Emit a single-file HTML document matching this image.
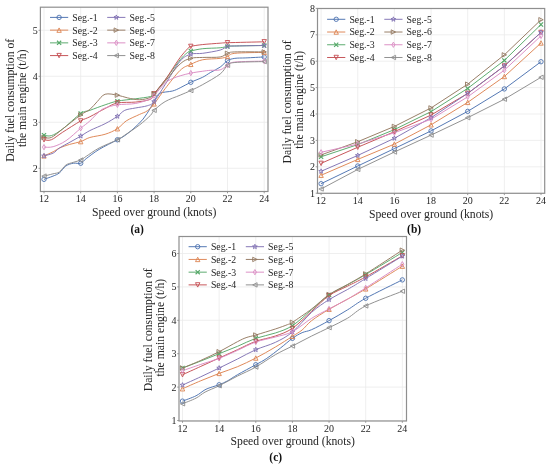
<!DOCTYPE html>
<html><head><meta charset="utf-8"><style>
html,body{margin:0;padding:0;background:#fff;}
svg{display:block;filter:grayscale(0);}
text{font-family:"Liberation Serif", serif;fill:#252525;}
.tk{font-size:10px;}
.ti{font-size:11.7px;}
.lg{font-size:9.8px;}
.pl{font-size:11.5px;font-weight:bold;fill:#111;}
</style></head><body>
<svg width="550" height="464" viewBox="0 0 550 464">
<rect width="550" height="464" fill="#fff"/>
<path d="M44.00,7.2V191.5M80.70,7.2V191.5M117.40,7.2V191.5M154.10,7.2V191.5M190.80,7.2V191.5M227.50,7.2V191.5M264.20,7.2V191.5M40.4,168.30H268.0M40.4,122.30H268.0M40.4,76.30H268.0M40.4,30.30H268.0" stroke="#ebebeb" stroke-width="0.8" fill="none"/>
<path d="M44.00,179.34C45.50,178.80 50.42,177.19 52.99,176.12C55.56,175.05 57.27,174.59 59.41,172.90C61.55,171.21 63.51,167.61 65.84,166.00C68.16,164.39 70.88,163.70 73.36,163.24C75.84,162.78 78.56,164.01 80.70,163.24C82.84,162.47 83.15,160.94 86.21,158.64C89.26,156.34 93.85,152.58 99.05,149.44C104.25,146.30 113.12,142.08 117.40,139.78C121.68,137.48 121.99,137.56 124.74,135.64C127.49,133.72 130.86,131.04 133.91,128.28C136.97,125.52 140.34,122.45 143.09,119.08C145.84,115.71 148.44,111.26 150.43,108.04C152.42,104.82 153.49,102.21 155.02,99.76C156.55,97.31 156.70,94.78 159.61,93.32C162.51,91.86 169.02,91.94 172.45,91.02C175.88,90.10 177.10,89.26 180.16,87.80C183.22,86.34 187.04,84.04 190.80,82.28C194.56,80.52 199.49,78.83 202.73,77.22C205.97,75.61 207.35,74.31 210.25,72.62C213.16,70.93 217.29,69.09 220.16,67.10C223.03,65.11 225.05,62.12 227.50,60.66C229.95,59.20 231.78,58.82 234.84,58.36C237.90,57.90 240.96,58.13 245.85,57.90C250.74,57.67 261.14,57.13 264.20,56.98" stroke="#4C72B0" stroke-width="0.95" fill="none" stroke-linejoin="round"/>
<path d="M44.00,155.88C45.53,155.19 50.61,153.04 53.17,151.74C55.74,150.44 56.66,149.29 59.41,148.06C62.17,146.83 66.14,145.45 69.69,144.38C73.24,143.31 77.34,142.77 80.70,141.62C84.06,140.47 85.81,138.71 89.88,137.48C93.94,136.25 100.52,135.72 105.11,134.26C109.69,132.80 113.88,130.96 117.40,128.74C120.92,126.52 122.54,123.30 126.21,120.92C129.88,118.54 135.90,116.17 139.42,114.48C142.94,112.79 144.86,112.56 147.31,110.80C149.76,109.04 151.13,107.58 154.10,103.90C157.07,100.22 160.77,94.32 165.11,88.72C169.45,83.12 175.88,74.38 180.16,70.32C184.44,66.26 187.04,66.10 190.80,64.34C194.56,62.58 197.83,60.74 202.73,59.74C207.62,58.74 216.03,58.90 220.16,58.36C224.29,57.82 225.05,57.36 227.50,56.52C229.95,55.68 228.72,53.99 234.84,53.30C240.96,52.61 259.31,52.53 264.20,52.38" stroke="#DD8452" stroke-width="0.95" fill="none" stroke-linejoin="round"/>
<path d="M44.00,135.18C45.22,135.26 48.28,136.64 51.34,135.64C54.40,134.64 57.46,132.88 62.35,129.20C67.24,125.52 76.11,116.70 80.70,113.56C85.29,110.42 85.81,111.80 89.88,110.34C93.94,108.88 100.52,106.35 105.11,104.82C109.69,103.29 112.38,102.14 117.40,101.14C122.42,100.14 129.69,99.61 135.20,98.84C140.70,98.07 147.28,97.38 150.43,96.54C153.58,95.70 151.65,96.54 154.10,93.78C156.55,91.02 160.77,85.65 165.11,79.98C169.45,74.31 176.40,64.34 180.16,59.74C183.92,55.14 185.91,53.84 187.68,52.38C189.45,50.92 188.29,51.61 190.80,51.00C193.31,50.39 197.83,49.24 202.73,48.70C207.62,48.16 216.03,48.16 220.16,47.78C224.29,47.40 224.75,46.71 227.50,46.40C230.25,46.09 230.56,46.09 236.68,45.94C242.79,45.79 259.61,45.56 264.20,45.48" stroke="#55A868" stroke-width="0.95" fill="none" stroke-linejoin="round"/>
<path d="M44.00,139.78C45.22,139.78 48.28,141.01 51.34,139.78C54.40,138.55 57.46,135.56 62.35,132.42C67.24,129.28 76.11,123.53 80.70,120.92C85.29,118.31 85.81,118.85 89.88,116.78C93.94,114.71 100.52,110.80 105.11,108.50C109.69,106.20 112.29,104.05 117.40,102.98C122.51,101.91 130.25,102.67 135.75,102.06C141.25,101.45 147.37,100.68 150.43,99.30C153.49,97.92 151.65,97.00 154.10,93.78C156.55,90.56 162.05,84.12 165.11,79.98C168.17,75.84 169.94,72.70 172.45,68.94C174.96,65.18 177.62,60.81 180.16,57.44C182.70,54.07 185.91,50.54 187.68,48.70C189.45,46.86 188.29,47.09 190.80,46.40C193.31,45.71 197.83,45.10 202.73,44.56C207.62,44.02 216.03,43.49 220.16,43.18C224.29,42.87 220.16,42.95 227.50,42.72C234.84,42.49 258.08,41.95 264.20,41.80" stroke="#C44E52" stroke-width="0.95" fill="none" stroke-linejoin="round"/>
<path d="M44.00,155.88C45.53,155.42 50.61,154.42 53.17,153.12C55.74,151.82 56.45,149.98 59.41,148.06C62.38,146.14 67.43,143.61 70.97,141.62C74.52,139.63 77.55,137.94 80.70,136.10C83.85,134.26 85.81,132.65 89.88,130.58C93.94,128.51 100.52,126.06 105.11,123.68C109.69,121.30 114.13,118.54 117.40,116.32C120.67,114.10 121.77,111.72 124.74,110.34C127.71,108.96 131.44,108.81 135.20,108.04C138.96,107.27 144.16,106.81 147.31,105.74C150.46,104.67 151.13,105.13 154.10,101.60C157.07,98.07 160.77,91.33 165.11,84.58C169.45,77.83 175.88,66.18 180.16,61.12C184.44,56.06 187.04,55.52 190.80,54.22C194.56,52.92 197.83,53.99 202.73,53.30C207.62,52.61 216.03,51.23 220.16,50.08C224.29,48.93 224.75,47.09 227.50,46.40C230.25,45.71 230.56,46.09 236.68,45.94C242.79,45.79 259.61,45.56 264.20,45.48" stroke="#8172B3" stroke-width="0.95" fill="none" stroke-linejoin="round"/>
<path d="M44.00,137.48C45.22,137.48 48.28,138.86 51.34,137.48C54.40,136.10 57.46,132.96 62.35,129.20C67.24,125.44 76.11,118.24 80.70,114.94C85.29,111.64 87.12,111.64 89.88,109.42C92.63,107.20 94.68,104.13 97.22,101.60C99.75,99.07 101.74,95.31 105.11,94.24C108.47,93.17 113.64,94.55 117.40,95.16C121.16,95.77 123.94,97.15 127.68,97.92C131.41,98.69 135.99,99.84 139.79,99.76C143.58,99.68 148.04,98.46 150.43,97.46C152.82,96.46 151.65,96.46 154.10,93.78C156.55,91.10 160.77,86.34 165.11,81.36C169.45,76.38 175.88,67.71 180.16,63.88C184.44,60.05 187.04,59.43 190.80,58.36C194.56,57.29 197.83,57.67 202.73,57.44C207.62,57.21 216.03,57.67 220.16,56.98C224.29,56.29 225.05,54.14 227.50,53.30C229.95,52.46 228.72,52.15 234.84,51.92C240.96,51.69 259.31,51.92 264.20,51.92" stroke="#937860" stroke-width="0.95" fill="none" stroke-linejoin="round"/>
<path d="M44.00,147.14C45.53,147.06 49.51,147.75 53.17,146.68C56.84,145.61 61.43,143.77 66.02,140.70C70.61,137.63 76.72,131.58 80.70,128.28C84.68,124.98 86.82,123.68 89.88,120.92C92.93,118.16 96.51,113.87 99.05,111.72C101.59,109.57 102.05,109.19 105.11,108.04C108.16,106.89 112.29,105.59 117.40,104.82C122.51,104.05 130.25,104.44 135.75,103.44C141.25,102.44 147.37,100.14 150.43,98.84C153.49,97.54 151.65,98.23 154.10,95.62C156.55,93.01 162.05,86.04 165.11,83.20C168.17,80.36 169.94,79.83 172.45,78.60C174.96,77.37 177.10,76.76 180.16,75.84C183.22,74.92 187.04,73.85 190.80,73.08C194.56,72.31 199.49,71.70 202.73,71.24C205.97,70.78 207.35,70.55 210.25,70.32C213.16,70.09 217.29,70.70 220.16,69.86C223.03,69.02 225.05,66.56 227.50,65.26C229.95,63.96 228.72,62.73 234.84,62.04C240.96,61.35 259.31,61.27 264.20,61.12" stroke="#DA8BC3" stroke-width="0.95" fill="none" stroke-linejoin="round"/>
<path d="M44.00,176.12C45.50,175.74 50.42,174.51 52.99,173.82C55.56,173.13 57.27,173.44 59.41,171.98C61.55,170.52 63.51,166.69 65.84,165.08C68.16,163.47 70.88,163.16 73.36,162.32C75.84,161.48 78.56,161.02 80.70,160.02C82.84,159.02 83.15,158.33 86.21,156.34C89.26,154.35 93.85,150.82 99.05,148.06C104.25,145.30 113.12,141.93 117.40,139.78C121.68,137.63 121.07,137.63 124.74,135.18C128.41,132.73 135.14,128.36 139.42,125.06C143.70,121.76 147.98,117.85 150.43,115.40C152.88,112.95 151.65,112.64 154.10,110.34C156.55,108.04 160.77,104.13 165.11,101.60C169.45,99.07 175.88,97.00 180.16,95.16C184.44,93.32 187.04,92.32 190.80,90.56C194.56,88.80 197.83,87.34 202.73,84.58C207.62,81.82 216.03,77.22 220.16,74.00C224.29,70.78 225.05,67.18 227.50,65.26C229.95,63.34 228.72,63.11 234.84,62.50C240.96,61.89 259.31,61.73 264.20,61.58" stroke="#8C8C8C" stroke-width="0.95" fill="none" stroke-linejoin="round"/>
<circle cx="44.00" cy="179.34" r="2.20" fill="none" stroke="#4C72B0" stroke-width="0.9"/>
<circle cx="80.70" cy="163.24" r="2.20" fill="none" stroke="#4C72B0" stroke-width="0.9"/>
<circle cx="117.40" cy="139.78" r="2.20" fill="none" stroke="#4C72B0" stroke-width="0.9"/>
<circle cx="190.80" cy="82.28" r="2.20" fill="none" stroke="#4C72B0" stroke-width="0.9"/>
<circle cx="227.50" cy="60.66" r="2.20" fill="none" stroke="#4C72B0" stroke-width="0.9"/>
<circle cx="264.20" cy="56.98" r="2.20" fill="none" stroke="#4C72B0" stroke-width="0.9"/>
<polygon points="44.00,153.68 46.20,158.08 41.80,158.08" fill="none" stroke="#DD8452" stroke-width="0.9" stroke-linejoin="miter"/>
<polygon points="80.70,139.42 82.90,143.82 78.50,143.82" fill="none" stroke="#DD8452" stroke-width="0.9" stroke-linejoin="miter"/>
<polygon points="117.40,126.54 119.60,130.94 115.20,130.94" fill="none" stroke="#DD8452" stroke-width="0.9" stroke-linejoin="miter"/>
<polygon points="154.10,101.70 156.30,106.10 151.90,106.10" fill="none" stroke="#DD8452" stroke-width="0.9" stroke-linejoin="miter"/>
<polygon points="190.80,62.14 193.00,66.54 188.60,66.54" fill="none" stroke="#DD8452" stroke-width="0.9" stroke-linejoin="miter"/>
<polygon points="227.50,54.32 229.70,58.72 225.30,58.72" fill="none" stroke="#DD8452" stroke-width="0.9" stroke-linejoin="miter"/>
<polygon points="264.20,50.18 266.40,54.58 262.00,54.58" fill="none" stroke="#DD8452" stroke-width="0.9" stroke-linejoin="miter"/>
<path d="M41.91,133.09L46.09,137.27M41.91,137.27L46.09,133.09" stroke="#55A868" stroke-width="1.125" fill="none"/>
<path d="M78.61,111.47L82.79,115.65M78.61,115.65L82.79,111.47" stroke="#55A868" stroke-width="1.125" fill="none"/>
<path d="M115.31,99.05L119.49,103.23M115.31,103.23L119.49,99.05" stroke="#55A868" stroke-width="1.125" fill="none"/>
<path d="M152.01,91.69L156.19,95.87M152.01,95.87L156.19,91.69" stroke="#55A868" stroke-width="1.125" fill="none"/>
<path d="M188.71,48.91L192.89,53.09M188.71,53.09L192.89,48.91" stroke="#55A868" stroke-width="1.125" fill="none"/>
<path d="M225.41,44.31L229.59,48.49M225.41,48.49L229.59,44.31" stroke="#55A868" stroke-width="1.125" fill="none"/>
<path d="M262.11,43.39L266.29,47.57M262.11,47.57L266.29,43.39" stroke="#55A868" stroke-width="1.125" fill="none"/>
<polygon points="44.00,141.98 46.20,137.58 41.80,137.58" fill="none" stroke="#C44E52" stroke-width="0.9" stroke-linejoin="miter"/>
<polygon points="80.70,123.12 82.90,118.72 78.50,118.72" fill="none" stroke="#C44E52" stroke-width="0.9" stroke-linejoin="miter"/>
<polygon points="117.40,105.18 119.60,100.78 115.20,100.78" fill="none" stroke="#C44E52" stroke-width="0.9" stroke-linejoin="miter"/>
<polygon points="154.10,95.98 156.30,91.58 151.90,91.58" fill="none" stroke="#C44E52" stroke-width="0.9" stroke-linejoin="miter"/>
<polygon points="190.80,48.60 193.00,44.20 188.60,44.20" fill="none" stroke="#C44E52" stroke-width="0.9" stroke-linejoin="miter"/>
<polygon points="227.50,44.92 229.70,40.52 225.30,40.52" fill="none" stroke="#C44E52" stroke-width="0.9" stroke-linejoin="miter"/>
<polygon points="264.20,44.00 266.40,39.60 262.00,39.60" fill="none" stroke="#C44E52" stroke-width="0.9" stroke-linejoin="miter"/>
<polygon points="44.00,153.42 44.61,155.04 46.34,155.12 44.98,156.20 45.45,157.87 44.00,156.91 42.55,157.87 43.02,156.20 41.66,155.12 43.39,155.04" fill="none" stroke="#8172B3" stroke-width="0.9"/>
<polygon points="80.70,133.64 81.31,135.26 83.04,135.34 81.68,136.42 82.15,138.09 80.70,137.13 79.25,138.09 79.72,136.42 78.36,135.34 80.09,135.26" fill="none" stroke="#8172B3" stroke-width="0.9"/>
<polygon points="117.40,113.86 118.01,115.48 119.74,115.56 118.38,116.64 118.85,118.31 117.40,117.35 115.95,118.31 116.42,116.64 115.06,115.56 116.79,115.48" fill="none" stroke="#8172B3" stroke-width="0.9"/>
<polygon points="154.10,99.14 154.71,100.76 156.44,100.84 155.08,101.92 155.55,103.59 154.10,102.63 152.65,103.59 153.12,101.92 151.76,100.84 153.49,100.76" fill="none" stroke="#8172B3" stroke-width="0.9"/>
<polygon points="190.80,51.76 191.41,53.38 193.14,53.46 191.78,54.54 192.25,56.21 190.80,55.25 189.35,56.21 189.82,54.54 188.46,53.46 190.19,53.38" fill="none" stroke="#8172B3" stroke-width="0.9"/>
<polygon points="227.50,43.94 228.11,45.56 229.84,45.64 228.48,46.72 228.95,48.39 227.50,47.43 226.05,48.39 226.52,46.72 225.16,45.64 226.89,45.56" fill="none" stroke="#8172B3" stroke-width="0.9"/>
<polygon points="264.20,43.02 264.81,44.64 266.54,44.72 265.18,45.80 265.65,47.47 264.20,46.51 262.75,47.47 263.22,45.80 261.86,44.72 263.59,44.64" fill="none" stroke="#8172B3" stroke-width="0.9"/>
<polygon points="46.20,137.48 41.80,135.28 41.80,139.68" fill="none" stroke="#937860" stroke-width="0.9" stroke-linejoin="miter"/>
<polygon points="82.90,114.94 78.50,112.74 78.50,117.14" fill="none" stroke="#937860" stroke-width="0.9" stroke-linejoin="miter"/>
<polygon points="119.60,95.16 115.20,92.96 115.20,97.36" fill="none" stroke="#937860" stroke-width="0.9" stroke-linejoin="miter"/>
<polygon points="156.30,93.78 151.90,91.58 151.90,95.98" fill="none" stroke="#937860" stroke-width="0.9" stroke-linejoin="miter"/>
<polygon points="193.00,58.36 188.60,56.16 188.60,60.56" fill="none" stroke="#937860" stroke-width="0.9" stroke-linejoin="miter"/>
<polygon points="229.70,53.30 225.30,51.10 225.30,55.50" fill="none" stroke="#937860" stroke-width="0.9" stroke-linejoin="miter"/>
<polygon points="266.40,51.92 262.00,49.72 262.00,54.12" fill="none" stroke="#937860" stroke-width="0.9" stroke-linejoin="miter"/>
<polygon points="44.00,144.50 45.58,147.14 44.00,149.78 42.42,147.14" fill="none" stroke="#DA8BC3" stroke-width="0.9"/>
<polygon points="80.70,125.64 82.28,128.28 80.70,130.92 79.12,128.28" fill="none" stroke="#DA8BC3" stroke-width="0.9"/>
<polygon points="117.40,102.18 118.98,104.82 117.40,107.46 115.82,104.82" fill="none" stroke="#DA8BC3" stroke-width="0.9"/>
<polygon points="154.10,92.98 155.68,95.62 154.10,98.26 152.52,95.62" fill="none" stroke="#DA8BC3" stroke-width="0.9"/>
<polygon points="190.80,70.44 192.38,73.08 190.80,75.72 189.22,73.08" fill="none" stroke="#DA8BC3" stroke-width="0.9"/>
<polygon points="227.50,62.62 229.08,65.26 227.50,67.90 225.92,65.26" fill="none" stroke="#DA8BC3" stroke-width="0.9"/>
<polygon points="264.20,58.48 265.78,61.12 264.20,63.76 262.62,61.12" fill="none" stroke="#DA8BC3" stroke-width="0.9"/>
<polygon points="41.80,176.12 46.20,173.92 46.20,178.32" fill="none" stroke="#8C8C8C" stroke-width="0.9" stroke-linejoin="miter"/>
<polygon points="78.50,160.02 82.90,157.82 82.90,162.22" fill="none" stroke="#8C8C8C" stroke-width="0.9" stroke-linejoin="miter"/>
<polygon points="115.20,139.78 119.60,137.58 119.60,141.98" fill="none" stroke="#8C8C8C" stroke-width="0.9" stroke-linejoin="miter"/>
<polygon points="151.90,110.34 156.30,108.14 156.30,112.54" fill="none" stroke="#8C8C8C" stroke-width="0.9" stroke-linejoin="miter"/>
<polygon points="188.60,90.56 193.00,88.36 193.00,92.76" fill="none" stroke="#8C8C8C" stroke-width="0.9" stroke-linejoin="miter"/>
<polygon points="225.30,65.26 229.70,63.06 229.70,67.46" fill="none" stroke="#8C8C8C" stroke-width="0.9" stroke-linejoin="miter"/>
<polygon points="262.00,61.58 266.40,59.38 266.40,63.78" fill="none" stroke="#8C8C8C" stroke-width="0.9" stroke-linejoin="miter"/>
<rect x="40.4" y="7.2" width="227.6" height="184.3" fill="none" stroke="#8f8f8f" stroke-width="1.2"/>
<path d="M44.00,191.5v1.8M80.70,191.5v1.8M117.40,191.5v1.8M154.10,191.5v1.8M190.80,191.5v1.8M227.50,191.5v1.8M264.20,191.5v1.8M40.4,168.30h-1.8M40.4,122.30h-1.8M40.4,76.30h-1.8M40.4,30.30h-1.8" stroke="#8f8f8f" stroke-width="0.9" fill="none"/>
<text x="44.00" y="202.10" text-anchor="middle" class="tk">12</text>
<text x="80.70" y="202.10" text-anchor="middle" class="tk">14</text>
<text x="117.40" y="202.10" text-anchor="middle" class="tk">16</text>
<text x="154.10" y="202.10" text-anchor="middle" class="tk">18</text>
<text x="190.80" y="202.10" text-anchor="middle" class="tk">20</text>
<text x="227.50" y="202.10" text-anchor="middle" class="tk">22</text>
<text x="264.20" y="202.10" text-anchor="middle" class="tk">24</text>
<text x="37.80" y="171.70" text-anchor="end" class="tk">2</text>
<text x="37.80" y="125.70" text-anchor="end" class="tk">3</text>
<text x="37.80" y="79.70" text-anchor="end" class="tk">4</text>
<text x="37.80" y="33.70" text-anchor="end" class="tk">5</text>
<text x="154.20" y="215.70" text-anchor="middle" class="ti">Speed over ground (knots)</text>
<text transform="translate(13.70,100.35) rotate(-90)" text-anchor="middle" class="ti">Daily fuel consumption of</text>
<text transform="translate(25.80,98.25) rotate(-90)" text-anchor="middle" class="ti">the main engine (t/h)</text>
<text x="137.20" y="232.80" text-anchor="middle" class="pl">(a)</text>
<path d="M50.00,17.40h18.2" stroke="#4C72B0" stroke-width="0.95"/>
<circle cx="59.10" cy="17.40" r="2.20" fill="none" stroke="#4C72B0" stroke-width="0.9"/>
<text x="72.30" y="20.80" class="lg">Seg.-1</text>
<path d="M50.00,30.13h18.2" stroke="#DD8452" stroke-width="0.95"/>
<polygon points="59.10,27.93 61.30,32.33 56.90,32.33" fill="none" stroke="#DD8452" stroke-width="0.9" stroke-linejoin="miter"/>
<text x="72.30" y="33.53" class="lg">Seg.-2</text>
<path d="M50.00,42.86h18.2" stroke="#55A868" stroke-width="0.95"/>
<path d="M57.01,40.77L61.19,44.95M57.01,44.95L61.19,40.77" stroke="#55A868" stroke-width="1.125" fill="none"/>
<text x="72.30" y="46.26" class="lg">Seg.-3</text>
<path d="M50.00,55.59h18.2" stroke="#C44E52" stroke-width="0.95"/>
<polygon points="59.10,57.79 61.30,53.39 56.90,53.39" fill="none" stroke="#C44E52" stroke-width="0.9" stroke-linejoin="miter"/>
<text x="72.30" y="58.99" class="lg">Seg.-4</text>
<path d="M107.20,17.40h18.2" stroke="#8172B3" stroke-width="0.95"/>
<polygon points="116.30,14.94 116.91,16.56 118.64,16.64 117.28,17.72 117.75,19.39 116.30,18.43 114.85,19.39 115.32,17.72 113.96,16.64 115.69,16.56" fill="none" stroke="#8172B3" stroke-width="0.9"/>
<text x="129.50" y="20.80" class="lg">Seg.-5</text>
<path d="M107.20,30.13h18.2" stroke="#937860" stroke-width="0.95"/>
<polygon points="118.50,30.13 114.10,27.93 114.10,32.33" fill="none" stroke="#937860" stroke-width="0.9" stroke-linejoin="miter"/>
<text x="129.50" y="33.53" class="lg">Seg.-6</text>
<path d="M107.20,42.86h18.2" stroke="#DA8BC3" stroke-width="0.95"/>
<polygon points="116.30,40.22 117.88,42.86 116.30,45.50 114.72,42.86" fill="none" stroke="#DA8BC3" stroke-width="0.9"/>
<text x="129.50" y="46.26" class="lg">Seg.-7</text>
<path d="M107.20,55.59h18.2" stroke="#8C8C8C" stroke-width="0.95"/>
<polygon points="114.10,55.59 118.50,53.39 118.50,57.79" fill="none" stroke="#8C8C8C" stroke-width="0.9" stroke-linejoin="miter"/>
<text x="129.50" y="58.99" class="lg">Seg.-8</text>
<path d="M321.10,8.5V193.3M357.75,8.5V193.3M394.40,8.5V193.3M431.05,8.5V193.3M467.70,8.5V193.3M504.35,8.5V193.3M541.00,8.5V193.3M317.5,193.20H544.7M317.5,166.80H544.7M317.5,140.40H544.7M317.5,114.00H544.7M317.5,87.60H544.7M317.5,61.20H544.7M317.5,34.80H544.7M317.5,8.40H544.7" stroke="#ebebeb" stroke-width="0.8" fill="none"/>
<path d="M321.10,183.70L357.75,166.01L394.40,148.58L431.05,130.90L467.70,111.36L504.35,88.92L541.00,61.73" stroke="#4C72B0" stroke-width="0.95" fill="none" stroke-linejoin="round"/>
<path d="M321.10,175.25L357.75,159.41L394.40,144.10L431.05,124.82L467.70,102.38L504.35,76.51L541.00,42.98" stroke="#DD8452" stroke-width="0.95" fill="none" stroke-linejoin="round"/>
<path d="M321.10,156.77L357.75,144.62L394.40,129.58L431.05,111.62L467.70,88.39L504.35,60.41L541.00,24.50" stroke="#55A868" stroke-width="0.95" fill="none" stroke-linejoin="round"/>
<path d="M321.10,163.37L357.75,147.26L394.40,131.69L431.05,115.06L467.70,93.41L504.35,65.95L541.00,32.42" stroke="#C44E52" stroke-width="0.95" fill="none" stroke-linejoin="round"/>
<path d="M321.10,171.29L357.75,155.45L394.40,138.29L431.05,117.70L467.70,93.41L504.35,65.95L541.00,32.42" stroke="#8172B3" stroke-width="0.95" fill="none" stroke-linejoin="round"/>
<path d="M321.10,154.92L357.75,141.72L394.40,126.41L431.05,107.93L467.70,84.17L504.35,54.86L541.00,19.75" stroke="#937860" stroke-width="0.95" fill="none" stroke-linejoin="round"/>
<path d="M321.10,152.28L357.75,144.10L394.40,132.74L431.05,119.28L467.70,96.84L504.35,70.18L541.00,35.86" stroke="#DA8BC3" stroke-width="0.95" fill="none" stroke-linejoin="round"/>
<path d="M321.10,188.98L357.75,169.44L394.40,152.02L431.05,135.12L467.70,117.70L504.35,99.22L541.00,77.30" stroke="#8C8C8C" stroke-width="0.95" fill="none" stroke-linejoin="round"/>
<circle cx="321.10" cy="183.70" r="2.20" fill="none" stroke="#4C72B0" stroke-width="0.9"/>
<circle cx="357.75" cy="166.01" r="2.20" fill="none" stroke="#4C72B0" stroke-width="0.9"/>
<circle cx="394.40" cy="148.58" r="2.20" fill="none" stroke="#4C72B0" stroke-width="0.9"/>
<circle cx="431.05" cy="130.90" r="2.20" fill="none" stroke="#4C72B0" stroke-width="0.9"/>
<circle cx="467.70" cy="111.36" r="2.20" fill="none" stroke="#4C72B0" stroke-width="0.9"/>
<circle cx="504.35" cy="88.92" r="2.20" fill="none" stroke="#4C72B0" stroke-width="0.9"/>
<circle cx="541.00" cy="61.73" r="2.20" fill="none" stroke="#4C72B0" stroke-width="0.9"/>
<polygon points="321.10,173.05 323.30,177.45 318.90,177.45" fill="none" stroke="#DD8452" stroke-width="0.9" stroke-linejoin="miter"/>
<polygon points="357.75,157.21 359.95,161.61 355.55,161.61" fill="none" stroke="#DD8452" stroke-width="0.9" stroke-linejoin="miter"/>
<polygon points="394.40,141.90 396.60,146.30 392.20,146.30" fill="none" stroke="#DD8452" stroke-width="0.9" stroke-linejoin="miter"/>
<polygon points="431.05,122.62 433.25,127.02 428.85,127.02" fill="none" stroke="#DD8452" stroke-width="0.9" stroke-linejoin="miter"/>
<polygon points="467.70,100.18 469.90,104.58 465.50,104.58" fill="none" stroke="#DD8452" stroke-width="0.9" stroke-linejoin="miter"/>
<polygon points="504.35,74.31 506.55,78.71 502.15,78.71" fill="none" stroke="#DD8452" stroke-width="0.9" stroke-linejoin="miter"/>
<polygon points="541.00,40.78 543.20,45.18 538.80,45.18" fill="none" stroke="#DD8452" stroke-width="0.9" stroke-linejoin="miter"/>
<path d="M319.01,154.68L323.19,158.86M319.01,158.86L323.19,154.68" stroke="#55A868" stroke-width="1.125" fill="none"/>
<path d="M355.66,142.53L359.84,146.71M355.66,146.71L359.84,142.53" stroke="#55A868" stroke-width="1.125" fill="none"/>
<path d="M392.31,127.49L396.49,131.67M392.31,131.67L396.49,127.49" stroke="#55A868" stroke-width="1.125" fill="none"/>
<path d="M428.96,109.53L433.14,113.71M428.96,113.71L433.14,109.53" stroke="#55A868" stroke-width="1.125" fill="none"/>
<path d="M465.61,86.30L469.79,90.48M465.61,90.48L469.79,86.30" stroke="#55A868" stroke-width="1.125" fill="none"/>
<path d="M502.26,58.32L506.44,62.50M502.26,62.50L506.44,58.32" stroke="#55A868" stroke-width="1.125" fill="none"/>
<path d="M538.91,22.41L543.09,26.59M538.91,26.59L543.09,22.41" stroke="#55A868" stroke-width="1.125" fill="none"/>
<polygon points="321.10,165.57 323.30,161.17 318.90,161.17" fill="none" stroke="#C44E52" stroke-width="0.9" stroke-linejoin="miter"/>
<polygon points="357.75,149.46 359.95,145.06 355.55,145.06" fill="none" stroke="#C44E52" stroke-width="0.9" stroke-linejoin="miter"/>
<polygon points="394.40,133.89 396.60,129.49 392.20,129.49" fill="none" stroke="#C44E52" stroke-width="0.9" stroke-linejoin="miter"/>
<polygon points="431.05,117.26 433.25,112.86 428.85,112.86" fill="none" stroke="#C44E52" stroke-width="0.9" stroke-linejoin="miter"/>
<polygon points="467.70,95.61 469.90,91.21 465.50,91.21" fill="none" stroke="#C44E52" stroke-width="0.9" stroke-linejoin="miter"/>
<polygon points="504.35,68.15 506.55,63.75 502.15,63.75" fill="none" stroke="#C44E52" stroke-width="0.9" stroke-linejoin="miter"/>
<polygon points="541.00,34.62 543.20,30.22 538.80,30.22" fill="none" stroke="#C44E52" stroke-width="0.9" stroke-linejoin="miter"/>
<polygon points="321.10,168.82 321.71,170.45 323.44,170.53 322.08,171.61 322.55,173.28 321.10,172.32 319.65,173.28 320.12,171.61 318.76,170.53 320.49,170.45" fill="none" stroke="#8172B3" stroke-width="0.9"/>
<polygon points="357.75,152.98 358.36,154.61 360.09,154.69 358.73,155.77 359.20,157.44 357.75,156.48 356.30,157.44 356.77,155.77 355.41,154.69 357.14,154.61" fill="none" stroke="#8172B3" stroke-width="0.9"/>
<polygon points="394.40,135.82 395.01,137.45 396.74,137.53 395.38,138.61 395.85,140.28 394.40,139.32 392.95,140.28 393.42,138.61 392.06,137.53 393.79,137.45" fill="none" stroke="#8172B3" stroke-width="0.9"/>
<polygon points="431.05,115.23 431.66,116.86 433.39,116.93 432.03,118.02 432.50,119.69 431.05,118.73 429.60,119.69 430.07,118.02 428.71,116.93 430.44,116.86" fill="none" stroke="#8172B3" stroke-width="0.9"/>
<polygon points="467.70,90.94 468.31,92.57 470.04,92.65 468.68,93.73 469.15,95.40 467.70,94.44 466.25,95.40 466.72,93.73 465.36,92.65 467.09,92.57" fill="none" stroke="#8172B3" stroke-width="0.9"/>
<polygon points="504.35,63.49 504.96,65.11 506.69,65.19 505.33,66.27 505.80,67.95 504.35,66.99 502.90,67.95 503.37,66.27 502.01,65.19 503.74,65.11" fill="none" stroke="#8172B3" stroke-width="0.9"/>
<polygon points="541.00,29.96 541.61,31.59 543.34,31.66 541.98,32.74 542.45,34.42 541.00,33.46 539.55,34.42 540.02,32.74 538.66,31.66 540.39,31.59" fill="none" stroke="#8172B3" stroke-width="0.9"/>
<polygon points="323.30,154.92 318.90,152.72 318.90,157.12" fill="none" stroke="#937860" stroke-width="0.9" stroke-linejoin="miter"/>
<polygon points="359.95,141.72 355.55,139.52 355.55,143.92" fill="none" stroke="#937860" stroke-width="0.9" stroke-linejoin="miter"/>
<polygon points="396.60,126.41 392.20,124.21 392.20,128.61" fill="none" stroke="#937860" stroke-width="0.9" stroke-linejoin="miter"/>
<polygon points="433.25,107.93 428.85,105.73 428.85,110.13" fill="none" stroke="#937860" stroke-width="0.9" stroke-linejoin="miter"/>
<polygon points="469.90,84.17 465.50,81.97 465.50,86.37" fill="none" stroke="#937860" stroke-width="0.9" stroke-linejoin="miter"/>
<polygon points="506.55,54.86 502.15,52.66 502.15,57.06" fill="none" stroke="#937860" stroke-width="0.9" stroke-linejoin="miter"/>
<polygon points="543.20,19.75 538.80,17.55 538.80,21.95" fill="none" stroke="#937860" stroke-width="0.9" stroke-linejoin="miter"/>
<polygon points="321.10,149.64 322.68,152.28 321.10,154.92 319.52,152.28" fill="none" stroke="#DA8BC3" stroke-width="0.9"/>
<polygon points="357.75,141.46 359.33,144.10 357.75,146.74 356.17,144.10" fill="none" stroke="#DA8BC3" stroke-width="0.9"/>
<polygon points="394.40,130.10 395.98,132.74 394.40,135.38 392.82,132.74" fill="none" stroke="#DA8BC3" stroke-width="0.9"/>
<polygon points="431.05,116.64 432.63,119.28 431.05,121.92 429.47,119.28" fill="none" stroke="#DA8BC3" stroke-width="0.9"/>
<polygon points="467.70,94.20 469.28,96.84 467.70,99.48 466.12,96.84" fill="none" stroke="#DA8BC3" stroke-width="0.9"/>
<polygon points="504.35,67.54 505.93,70.18 504.35,72.82 502.77,70.18" fill="none" stroke="#DA8BC3" stroke-width="0.9"/>
<polygon points="541.00,33.22 542.58,35.86 541.00,38.50 539.42,35.86" fill="none" stroke="#DA8BC3" stroke-width="0.9"/>
<polygon points="318.90,188.98 323.30,186.78 323.30,191.18" fill="none" stroke="#8C8C8C" stroke-width="0.9" stroke-linejoin="miter"/>
<polygon points="355.55,169.44 359.95,167.24 359.95,171.64" fill="none" stroke="#8C8C8C" stroke-width="0.9" stroke-linejoin="miter"/>
<polygon points="392.20,152.02 396.60,149.82 396.60,154.22" fill="none" stroke="#8C8C8C" stroke-width="0.9" stroke-linejoin="miter"/>
<polygon points="428.85,135.12 433.25,132.92 433.25,137.32" fill="none" stroke="#8C8C8C" stroke-width="0.9" stroke-linejoin="miter"/>
<polygon points="465.50,117.70 469.90,115.50 469.90,119.90" fill="none" stroke="#8C8C8C" stroke-width="0.9" stroke-linejoin="miter"/>
<polygon points="502.15,99.22 506.55,97.02 506.55,101.42" fill="none" stroke="#8C8C8C" stroke-width="0.9" stroke-linejoin="miter"/>
<polygon points="538.80,77.30 543.20,75.10 543.20,79.50" fill="none" stroke="#8C8C8C" stroke-width="0.9" stroke-linejoin="miter"/>
<rect x="317.5" y="8.5" width="227.20000000000005" height="184.8" fill="none" stroke="#8f8f8f" stroke-width="1.2"/>
<path d="M321.10,193.3v1.8M357.75,193.3v1.8M394.40,193.3v1.8M431.05,193.3v1.8M467.70,193.3v1.8M504.35,193.3v1.8M541.00,193.3v1.8M317.5,193.20h-1.8M317.5,166.80h-1.8M317.5,140.40h-1.8M317.5,114.00h-1.8M317.5,87.60h-1.8M317.5,61.20h-1.8M317.5,34.80h-1.8M317.5,8.40h-1.8" stroke="#8f8f8f" stroke-width="0.9" fill="none"/>
<text x="321.10" y="203.90" text-anchor="middle" class="tk">12</text>
<text x="357.75" y="203.90" text-anchor="middle" class="tk">14</text>
<text x="394.40" y="203.90" text-anchor="middle" class="tk">16</text>
<text x="431.05" y="203.90" text-anchor="middle" class="tk">18</text>
<text x="467.70" y="203.90" text-anchor="middle" class="tk">20</text>
<text x="504.35" y="203.90" text-anchor="middle" class="tk">22</text>
<text x="541.00" y="203.90" text-anchor="middle" class="tk">24</text>
<text x="314.90" y="196.60" text-anchor="end" class="tk">1</text>
<text x="314.90" y="170.20" text-anchor="end" class="tk">2</text>
<text x="314.90" y="143.80" text-anchor="end" class="tk">3</text>
<text x="314.90" y="117.40" text-anchor="end" class="tk">4</text>
<text x="314.90" y="91.00" text-anchor="end" class="tk">5</text>
<text x="314.90" y="64.60" text-anchor="end" class="tk">6</text>
<text x="314.90" y="38.20" text-anchor="end" class="tk">7</text>
<text x="314.90" y="11.80" text-anchor="end" class="tk">8</text>
<text x="431.10" y="217.50" text-anchor="middle" class="ti">Speed over ground (knots)</text>
<text transform="translate(290.80,101.90) rotate(-90)" text-anchor="middle" class="ti">Daily fuel consumption of</text>
<text transform="translate(302.90,99.80) rotate(-90)" text-anchor="middle" class="ti">the main engine (t/h)</text>
<text x="414.10" y="232.80" text-anchor="middle" class="pl">(b)</text>
<path d="M327.10,19.30h18.2" stroke="#4C72B0" stroke-width="0.95"/>
<circle cx="336.20" cy="19.30" r="2.20" fill="none" stroke="#4C72B0" stroke-width="0.9"/>
<text x="349.40" y="22.70" class="lg">Seg.-1</text>
<path d="M327.10,32.03h18.2" stroke="#DD8452" stroke-width="0.95"/>
<polygon points="336.20,29.83 338.40,34.23 334.00,34.23" fill="none" stroke="#DD8452" stroke-width="0.9" stroke-linejoin="miter"/>
<text x="349.40" y="35.43" class="lg">Seg.-2</text>
<path d="M327.10,44.76h18.2" stroke="#55A868" stroke-width="0.95"/>
<path d="M334.11,42.67L338.29,46.85M334.11,46.85L338.29,42.67" stroke="#55A868" stroke-width="1.125" fill="none"/>
<text x="349.40" y="48.16" class="lg">Seg.-3</text>
<path d="M327.10,57.49h18.2" stroke="#C44E52" stroke-width="0.95"/>
<polygon points="336.20,59.69 338.40,55.29 334.00,55.29" fill="none" stroke="#C44E52" stroke-width="0.9" stroke-linejoin="miter"/>
<text x="349.40" y="60.89" class="lg">Seg.-4</text>
<path d="M384.30,19.30h18.2" stroke="#8172B3" stroke-width="0.95"/>
<polygon points="393.40,16.84 394.01,18.46 395.74,18.54 394.38,19.62 394.85,21.29 393.40,20.33 391.95,21.29 392.42,19.62 391.06,18.54 392.79,18.46" fill="none" stroke="#8172B3" stroke-width="0.9"/>
<text x="406.60" y="22.70" class="lg">Seg.-5</text>
<path d="M384.30,32.03h18.2" stroke="#937860" stroke-width="0.95"/>
<polygon points="395.60,32.03 391.20,29.83 391.20,34.23" fill="none" stroke="#937860" stroke-width="0.9" stroke-linejoin="miter"/>
<text x="406.60" y="35.43" class="lg">Seg.-6</text>
<path d="M384.30,44.76h18.2" stroke="#DA8BC3" stroke-width="0.95"/>
<polygon points="393.40,42.12 394.98,44.76 393.40,47.40 391.82,44.76" fill="none" stroke="#DA8BC3" stroke-width="0.9"/>
<text x="406.60" y="48.16" class="lg">Seg.-7</text>
<path d="M384.30,57.49h18.2" stroke="#8C8C8C" stroke-width="0.95"/>
<polygon points="391.20,57.49 395.60,55.29 395.60,59.69" fill="none" stroke="#8C8C8C" stroke-width="0.9" stroke-linejoin="miter"/>
<text x="406.60" y="60.89" class="lg">Seg.-8</text>
<path d="M182.50,236.5V421.0M219.14,236.5V421.0M255.78,236.5V421.0M292.42,236.5V421.0M329.06,236.5V421.0M365.70,236.5V421.0M402.34,236.5V421.0M179.0,420.50H406.5M179.0,387.10H406.5M179.0,353.70H406.5M179.0,320.30H406.5M179.0,286.90H406.5M179.0,253.50H406.5" stroke="#ebebeb" stroke-width="0.8" fill="none"/>
<path d="M182.50,401.13C184.76,400.24 192.30,397.68 196.06,395.78C199.81,393.89 202.26,391.27 205.03,389.77C207.81,388.27 210.38,387.60 212.73,386.77C215.08,385.93 216.64,385.76 219.14,384.76C221.64,383.76 224.70,382.42 227.75,380.75C230.80,379.08 232.79,377.41 237.46,374.74C242.13,372.07 250.89,367.45 255.78,364.72C260.67,361.99 262.65,361.16 266.77,358.38C270.89,355.59 276.24,351.36 280.51,348.02C284.79,344.68 288.82,340.90 292.42,338.34C296.02,335.78 298.92,334.11 302.13,332.66C305.34,331.21 307.17,331.66 311.66,329.65C316.14,327.65 323.11,323.92 329.06,320.63C335.01,317.35 341.27,313.68 347.38,309.95C353.49,306.22 356.54,303.27 365.70,298.26C374.86,293.25 396.23,282.95 402.34,279.89" stroke="#4C72B0" stroke-width="0.95" fill="none" stroke-linejoin="round"/>
<path d="M182.50,388.77C185.55,387.43 194.71,383.31 200.82,380.75C206.93,378.19 213.03,375.74 219.14,373.41C225.25,371.07 231.35,369.29 237.46,366.73C243.57,364.17 249.46,361.33 255.78,358.04C262.10,354.76 269.28,350.64 275.38,347.02C281.49,343.40 287.96,339.17 292.42,336.33C296.88,333.49 298.92,332.60 302.13,329.99C305.34,327.37 307.17,324.09 311.66,320.63C316.14,317.18 323.11,312.84 329.06,309.28C335.01,305.72 341.27,302.65 347.38,299.26C353.49,295.86 356.54,294.42 365.70,288.90C374.86,283.39 396.23,269.98 402.34,266.19" stroke="#DD8452" stroke-width="0.95" fill="none" stroke-linejoin="round"/>
<path d="M182.50,368.06C185.55,366.89 194.71,363.44 200.82,361.05C206.93,358.65 213.03,356.15 219.14,353.70C225.25,351.25 231.35,348.91 237.46,346.35C243.57,343.79 249.46,340.56 255.78,338.34C262.10,336.11 269.28,335.11 275.38,332.99C281.49,330.88 286.37,329.54 292.42,325.64C298.47,321.75 305.55,314.73 311.66,309.61C317.76,304.49 323.11,299.04 329.06,294.92C335.01,290.80 341.27,288.29 347.38,284.90C353.49,281.50 356.54,279.94 365.70,274.54C374.86,269.14 396.23,256.17 402.34,252.50" stroke="#55A868" stroke-width="0.95" fill="none" stroke-linejoin="round"/>
<path d="M182.50,374.74C185.55,373.35 194.71,369.18 200.82,366.39C206.93,363.61 213.03,360.83 219.14,358.04C225.25,355.26 231.35,352.48 237.46,349.69C243.57,346.91 249.46,343.62 255.78,341.34C262.10,339.06 269.28,338.17 275.38,336.00C281.49,333.83 286.37,332.44 292.42,328.32C298.47,324.20 305.55,316.74 311.66,311.28C317.76,305.83 323.11,299.76 329.06,295.58C335.01,291.41 341.27,289.35 347.38,286.23C353.49,283.11 356.54,281.95 365.70,276.88C374.86,271.81 396.23,259.35 402.34,255.84" stroke="#C44E52" stroke-width="0.95" fill="none" stroke-linejoin="round"/>
<path d="M182.50,385.10C185.55,383.70 194.71,379.58 200.82,376.75C206.93,373.91 213.03,371.01 219.14,368.06C225.25,365.11 231.35,362.11 237.46,359.04C243.57,355.98 249.46,352.48 255.78,349.69C262.10,346.91 269.28,345.29 275.38,342.34C281.49,339.39 286.37,337.00 292.42,331.99C298.47,326.98 305.55,317.68 311.66,312.28C317.76,306.88 323.11,303.38 329.06,299.59C335.01,295.81 341.27,293.08 347.38,289.57C353.49,286.06 356.54,284.12 365.70,278.55C374.86,272.98 396.23,259.90 402.34,256.17" stroke="#8172B3" stroke-width="0.95" fill="none" stroke-linejoin="round"/>
<path d="M182.50,368.06C185.55,366.78 194.71,363.11 200.82,360.38C206.93,357.65 213.03,354.81 219.14,351.70C225.25,348.58 232.97,344.01 237.46,341.68C241.95,339.34 243.02,338.78 246.07,337.67C249.12,336.55 250.89,336.44 255.78,335.00C260.67,333.55 270.10,330.71 275.38,328.98C280.66,327.26 284.63,325.76 287.47,324.64C290.31,323.53 288.39,324.92 292.42,322.30C296.45,319.69 305.55,313.56 311.66,308.94C317.76,304.32 323.11,298.65 329.06,294.58C335.01,290.52 341.27,288.01 347.38,284.56C353.49,281.11 356.54,279.61 365.70,273.87C374.86,268.14 396.23,254.11 402.34,250.16" stroke="#937860" stroke-width="0.95" fill="none" stroke-linejoin="round"/>
<path d="M182.50,370.73C185.55,369.68 194.71,366.45 200.82,364.39C206.93,362.33 213.03,360.71 219.14,358.38C225.25,356.04 231.35,353.09 237.46,350.36C243.57,347.63 249.46,344.24 255.78,342.01C262.10,339.78 269.28,338.73 275.38,337.00C281.49,335.27 286.37,334.77 292.42,331.66C298.47,328.54 305.55,322.08 311.66,318.30C317.76,314.51 323.11,312.12 329.06,308.94C335.01,305.77 341.27,302.77 347.38,299.26C353.49,295.75 356.54,293.75 365.70,287.90C374.86,282.06 396.23,268.14 402.34,264.19" stroke="#DA8BC3" stroke-width="0.95" fill="none" stroke-linejoin="round"/>
<path d="M182.50,403.80C184.76,402.85 192.30,400.07 196.06,398.12C199.81,396.17 201.19,394.17 205.03,392.11C208.88,390.05 213.74,388.44 219.14,385.76C224.54,383.09 231.35,379.20 237.46,376.08C243.57,372.96 249.46,370.62 255.78,367.06C262.10,363.50 269.28,358.21 275.38,354.70C281.49,351.19 286.37,349.14 292.42,346.02C298.47,342.90 305.55,339.06 311.66,336.00C317.76,332.94 323.11,330.60 329.06,327.65C335.01,324.70 341.27,321.91 347.38,318.30C353.49,314.68 356.54,310.45 365.70,305.94C374.86,301.43 396.23,293.69 402.34,291.24" stroke="#8C8C8C" stroke-width="0.95" fill="none" stroke-linejoin="round"/>
<circle cx="182.50" cy="401.13" r="2.20" fill="none" stroke="#4C72B0" stroke-width="0.9"/>
<circle cx="219.14" cy="384.76" r="2.20" fill="none" stroke="#4C72B0" stroke-width="0.9"/>
<circle cx="255.78" cy="364.72" r="2.20" fill="none" stroke="#4C72B0" stroke-width="0.9"/>
<circle cx="292.42" cy="338.34" r="2.20" fill="none" stroke="#4C72B0" stroke-width="0.9"/>
<circle cx="329.06" cy="320.63" r="2.20" fill="none" stroke="#4C72B0" stroke-width="0.9"/>
<circle cx="365.70" cy="298.26" r="2.20" fill="none" stroke="#4C72B0" stroke-width="0.9"/>
<circle cx="402.34" cy="279.89" r="2.20" fill="none" stroke="#4C72B0" stroke-width="0.9"/>
<polygon points="182.50,386.57 184.70,390.97 180.30,390.97" fill="none" stroke="#DD8452" stroke-width="0.9" stroke-linejoin="miter"/>
<polygon points="219.14,371.21 221.34,375.61 216.94,375.61" fill="none" stroke="#DD8452" stroke-width="0.9" stroke-linejoin="miter"/>
<polygon points="255.78,355.84 257.98,360.24 253.58,360.24" fill="none" stroke="#DD8452" stroke-width="0.9" stroke-linejoin="miter"/>
<polygon points="292.42,334.13 294.62,338.53 290.22,338.53" fill="none" stroke="#DD8452" stroke-width="0.9" stroke-linejoin="miter"/>
<polygon points="329.06,307.08 331.26,311.48 326.86,311.48" fill="none" stroke="#DD8452" stroke-width="0.9" stroke-linejoin="miter"/>
<polygon points="365.70,286.70 367.90,291.10 363.50,291.10" fill="none" stroke="#DD8452" stroke-width="0.9" stroke-linejoin="miter"/>
<polygon points="402.34,263.99 404.54,268.39 400.14,268.39" fill="none" stroke="#DD8452" stroke-width="0.9" stroke-linejoin="miter"/>
<path d="M180.41,365.97L184.59,370.15M180.41,370.15L184.59,365.97" stroke="#55A868" stroke-width="1.125" fill="none"/>
<path d="M217.05,351.61L221.23,355.79M217.05,355.79L221.23,351.61" stroke="#55A868" stroke-width="1.125" fill="none"/>
<path d="M253.69,336.25L257.87,340.43M253.69,340.43L257.87,336.25" stroke="#55A868" stroke-width="1.125" fill="none"/>
<path d="M290.33,323.55L294.51,327.73M290.33,327.73L294.51,323.55" stroke="#55A868" stroke-width="1.125" fill="none"/>
<path d="M326.97,292.83L331.15,297.01M326.97,297.01L331.15,292.83" stroke="#55A868" stroke-width="1.125" fill="none"/>
<path d="M363.61,272.45L367.79,276.63M363.61,276.63L367.79,272.45" stroke="#55A868" stroke-width="1.125" fill="none"/>
<path d="M400.25,250.41L404.43,254.59M400.25,254.59L404.43,250.41" stroke="#55A868" stroke-width="1.125" fill="none"/>
<polygon points="182.50,376.94 184.70,372.54 180.30,372.54" fill="none" stroke="#C44E52" stroke-width="0.9" stroke-linejoin="miter"/>
<polygon points="219.14,360.24 221.34,355.84 216.94,355.84" fill="none" stroke="#C44E52" stroke-width="0.9" stroke-linejoin="miter"/>
<polygon points="255.78,343.54 257.98,339.14 253.58,339.14" fill="none" stroke="#C44E52" stroke-width="0.9" stroke-linejoin="miter"/>
<polygon points="292.42,330.52 294.62,326.12 290.22,326.12" fill="none" stroke="#C44E52" stroke-width="0.9" stroke-linejoin="miter"/>
<polygon points="329.06,297.78 331.26,293.38 326.86,293.38" fill="none" stroke="#C44E52" stroke-width="0.9" stroke-linejoin="miter"/>
<polygon points="365.70,279.08 367.90,274.68 363.50,274.68" fill="none" stroke="#C44E52" stroke-width="0.9" stroke-linejoin="miter"/>
<polygon points="402.34,258.04 404.54,253.64 400.14,253.64" fill="none" stroke="#C44E52" stroke-width="0.9" stroke-linejoin="miter"/>
<polygon points="182.50,382.63 183.11,384.26 184.84,384.33 183.48,385.42 183.95,387.09 182.50,386.13 181.05,387.09 181.52,385.42 180.16,384.33 181.89,384.26" fill="none" stroke="#8172B3" stroke-width="0.9"/>
<polygon points="219.14,365.60 219.75,367.22 221.48,367.30 220.12,368.38 220.59,370.06 219.14,369.10 217.69,370.06 218.16,368.38 216.80,367.30 218.53,367.22" fill="none" stroke="#8172B3" stroke-width="0.9"/>
<polygon points="255.78,347.23 256.39,348.85 258.12,348.93 256.76,350.01 257.23,351.69 255.78,350.73 254.33,351.69 254.80,350.01 253.44,348.93 255.17,348.85" fill="none" stroke="#8172B3" stroke-width="0.9"/>
<polygon points="292.42,329.53 293.03,331.15 294.76,331.23 293.40,332.31 293.87,333.98 292.42,333.02 290.97,333.98 291.44,332.31 290.08,331.23 291.81,331.15" fill="none" stroke="#8172B3" stroke-width="0.9"/>
<polygon points="329.06,297.13 329.67,298.75 331.40,298.83 330.04,299.91 330.51,301.59 329.06,300.63 327.61,301.59 328.08,299.91 326.72,298.83 328.45,298.75" fill="none" stroke="#8172B3" stroke-width="0.9"/>
<polygon points="365.70,276.09 366.31,277.71 368.04,277.79 366.68,278.87 367.15,280.54 365.70,279.58 364.25,280.54 364.72,278.87 363.36,277.79 365.09,277.71" fill="none" stroke="#8172B3" stroke-width="0.9"/>
<polygon points="402.34,253.71 402.95,255.33 404.68,255.41 403.32,256.49 403.79,258.17 402.34,257.21 400.89,258.17 401.36,256.49 400.00,255.41 401.73,255.33" fill="none" stroke="#8172B3" stroke-width="0.9"/>
<polygon points="184.70,368.06 180.30,365.86 180.30,370.26" fill="none" stroke="#937860" stroke-width="0.9" stroke-linejoin="miter"/>
<polygon points="221.34,351.70 216.94,349.50 216.94,353.90" fill="none" stroke="#937860" stroke-width="0.9" stroke-linejoin="miter"/>
<polygon points="257.98,335.00 253.58,332.80 253.58,337.20" fill="none" stroke="#937860" stroke-width="0.9" stroke-linejoin="miter"/>
<polygon points="294.62,322.30 290.22,320.10 290.22,324.50" fill="none" stroke="#937860" stroke-width="0.9" stroke-linejoin="miter"/>
<polygon points="331.26,294.58 326.86,292.38 326.86,296.78" fill="none" stroke="#937860" stroke-width="0.9" stroke-linejoin="miter"/>
<polygon points="367.90,273.87 363.50,271.67 363.50,276.07" fill="none" stroke="#937860" stroke-width="0.9" stroke-linejoin="miter"/>
<polygon points="404.54,250.16 400.14,247.96 400.14,252.36" fill="none" stroke="#937860" stroke-width="0.9" stroke-linejoin="miter"/>
<polygon points="182.50,368.09 184.08,370.73 182.50,373.37 180.92,370.73" fill="none" stroke="#DA8BC3" stroke-width="0.9"/>
<polygon points="219.14,355.74 220.72,358.38 219.14,361.02 217.56,358.38" fill="none" stroke="#DA8BC3" stroke-width="0.9"/>
<polygon points="255.78,339.37 257.36,342.01 255.78,344.65 254.20,342.01" fill="none" stroke="#DA8BC3" stroke-width="0.9"/>
<polygon points="292.42,329.02 294.00,331.66 292.42,334.30 290.84,331.66" fill="none" stroke="#DA8BC3" stroke-width="0.9"/>
<polygon points="329.06,306.30 330.64,308.94 329.06,311.58 327.48,308.94" fill="none" stroke="#DA8BC3" stroke-width="0.9"/>
<polygon points="365.70,285.26 367.28,287.90 365.70,290.54 364.12,287.90" fill="none" stroke="#DA8BC3" stroke-width="0.9"/>
<polygon points="402.34,261.55 403.92,264.19 402.34,266.83 400.76,264.19" fill="none" stroke="#DA8BC3" stroke-width="0.9"/>
<polygon points="180.30,403.80 184.70,401.60 184.70,406.00" fill="none" stroke="#8C8C8C" stroke-width="0.9" stroke-linejoin="miter"/>
<polygon points="216.94,385.76 221.34,383.56 221.34,387.96" fill="none" stroke="#8C8C8C" stroke-width="0.9" stroke-linejoin="miter"/>
<polygon points="253.58,367.06 257.98,364.86 257.98,369.26" fill="none" stroke="#8C8C8C" stroke-width="0.9" stroke-linejoin="miter"/>
<polygon points="290.22,346.02 294.62,343.82 294.62,348.22" fill="none" stroke="#8C8C8C" stroke-width="0.9" stroke-linejoin="miter"/>
<polygon points="326.86,327.65 331.26,325.45 331.26,329.85" fill="none" stroke="#8C8C8C" stroke-width="0.9" stroke-linejoin="miter"/>
<polygon points="363.50,305.94 367.90,303.74 367.90,308.14" fill="none" stroke="#8C8C8C" stroke-width="0.9" stroke-linejoin="miter"/>
<polygon points="400.14,291.24 404.54,289.04 404.54,293.44" fill="none" stroke="#8C8C8C" stroke-width="0.9" stroke-linejoin="miter"/>
<rect x="179.0" y="236.5" width="227.5" height="184.5" fill="none" stroke="#8f8f8f" stroke-width="1.2"/>
<path d="M182.50,421.0v1.8M219.14,421.0v1.8M255.78,421.0v1.8M292.42,421.0v1.8M329.06,421.0v1.8M365.70,421.0v1.8M402.34,421.0v1.8M179.0,420.50h-1.8M179.0,387.10h-1.8M179.0,353.70h-1.8M179.0,320.30h-1.8M179.0,286.90h-1.8M179.0,253.50h-1.8" stroke="#8f8f8f" stroke-width="0.9" fill="none"/>
<text x="182.50" y="431.60" text-anchor="middle" class="tk">12</text>
<text x="219.14" y="431.60" text-anchor="middle" class="tk">14</text>
<text x="255.78" y="431.60" text-anchor="middle" class="tk">16</text>
<text x="292.42" y="431.60" text-anchor="middle" class="tk">18</text>
<text x="329.06" y="431.60" text-anchor="middle" class="tk">20</text>
<text x="365.70" y="431.60" text-anchor="middle" class="tk">22</text>
<text x="402.34" y="431.60" text-anchor="middle" class="tk">24</text>
<text x="176.40" y="423.90" text-anchor="end" class="tk">1</text>
<text x="176.40" y="390.50" text-anchor="end" class="tk">2</text>
<text x="176.40" y="357.10" text-anchor="end" class="tk">3</text>
<text x="176.40" y="323.70" text-anchor="end" class="tk">4</text>
<text x="176.40" y="290.30" text-anchor="end" class="tk">5</text>
<text x="176.40" y="256.90" text-anchor="end" class="tk">6</text>
<text x="292.75" y="445.20" text-anchor="middle" class="ti">Speed over ground (knots)</text>
<text transform="translate(152.30,329.75) rotate(-90)" text-anchor="middle" class="ti">Daily fuel consumption of</text>
<text transform="translate(164.40,327.65) rotate(-90)" text-anchor="middle" class="ti">the main engine (t/h)</text>
<text x="275.75" y="460.60" text-anchor="middle" class="pl">(c)</text>
<path d="M188.60,246.70h18.2" stroke="#4C72B0" stroke-width="0.95"/>
<circle cx="197.70" cy="246.70" r="2.20" fill="none" stroke="#4C72B0" stroke-width="0.9"/>
<text x="210.90" y="250.10" class="lg">Seg.-1</text>
<path d="M188.60,259.43h18.2" stroke="#DD8452" stroke-width="0.95"/>
<polygon points="197.70,257.23 199.90,261.63 195.50,261.63" fill="none" stroke="#DD8452" stroke-width="0.9" stroke-linejoin="miter"/>
<text x="210.90" y="262.83" class="lg">Seg.-2</text>
<path d="M188.60,272.16h18.2" stroke="#55A868" stroke-width="0.95"/>
<path d="M195.61,270.07L199.79,274.25M195.61,274.25L199.79,270.07" stroke="#55A868" stroke-width="1.125" fill="none"/>
<text x="210.90" y="275.56" class="lg">Seg.-3</text>
<path d="M188.60,284.89h18.2" stroke="#C44E52" stroke-width="0.95"/>
<polygon points="197.70,287.09 199.90,282.69 195.50,282.69" fill="none" stroke="#C44E52" stroke-width="0.9" stroke-linejoin="miter"/>
<text x="210.90" y="288.29" class="lg">Seg.-4</text>
<path d="M245.80,246.70h18.2" stroke="#8172B3" stroke-width="0.95"/>
<polygon points="254.90,244.24 255.51,245.86 257.24,245.94 255.88,247.02 256.35,248.69 254.90,247.73 253.45,248.69 253.92,247.02 252.56,245.94 254.29,245.86" fill="none" stroke="#8172B3" stroke-width="0.9"/>
<text x="268.10" y="250.10" class="lg">Seg.-5</text>
<path d="M245.80,259.43h18.2" stroke="#937860" stroke-width="0.95"/>
<polygon points="257.10,259.43 252.70,257.23 252.70,261.63" fill="none" stroke="#937860" stroke-width="0.9" stroke-linejoin="miter"/>
<text x="268.10" y="262.83" class="lg">Seg.-6</text>
<path d="M245.80,272.16h18.2" stroke="#DA8BC3" stroke-width="0.95"/>
<polygon points="254.90,269.52 256.48,272.16 254.90,274.80 253.32,272.16" fill="none" stroke="#DA8BC3" stroke-width="0.9"/>
<text x="268.10" y="275.56" class="lg">Seg.-7</text>
<path d="M245.80,284.89h18.2" stroke="#8C8C8C" stroke-width="0.95"/>
<polygon points="252.70,284.89 257.10,282.69 257.10,287.09" fill="none" stroke="#8C8C8C" stroke-width="0.9" stroke-linejoin="miter"/>
<text x="268.10" y="288.29" class="lg">Seg.-8</text>
</svg>
</body></html>
